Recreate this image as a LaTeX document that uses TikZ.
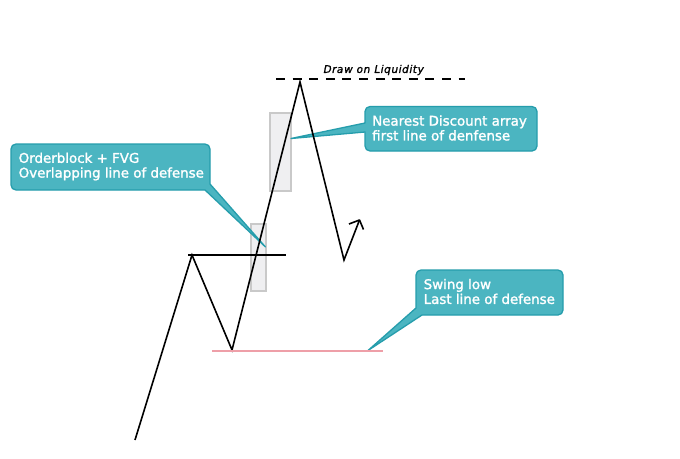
\documentclass[tikz,border=0pt]{standalone}
\usepackage{fontspec}
\setmainfont{DejaVu Sans}
\newfontfamily\calloutfont[FakeBold=1.6]{DejaVu Sans}
\newfontfamily\notefont[FakeSlant=0.2,FakeBold=1.4,LetterSpace=5]{DejaVu Sans}
\usetikzlibrary{arrows.meta}
\definecolor{calloutfill}{HTML}{4BB5C1}
\definecolor{calloutedge}{HTML}{259DAC}
\definecolor{zonefill}{HTML}{EFEFF1}
\definecolor{zoneedge}{HTML}{C9C9C9}
\definecolor{pinkline}{HTML}{EE9FA8}
\tikzset{
  x=1pt,y=-1pt,
  pline/.style={draw=black,line width=1.6pt},
  zone/.style={draw=zoneedge,fill=zonefill,line width=1.1pt},
  callout/.style={fill=calloutfill,draw=calloutedge,line width=1.3pt,line join=round},
  calltext/.style={text=white,align=left,anchor=west,font=\calloutfont\fontsize{13.4}{14.8}\selectfont,inner sep=0pt},
}
\begin{document}
\begin{tikzpicture}
\useasboundingbox (0,0) rectangle (680,458);
\fill[white] (0,0) rectangle (680,458);
% zones
\node[zone,minimum width=21pt,minimum height=78pt,inner sep=0pt] (zoneA) at (280.5,152) {};
\node[zone,minimum width=15pt,minimum height=67pt,inner sep=0pt] (zoneB) at (258.5,257.5) {};
% key points
\coordinate (start) at (135,440);
\coordinate (h1) at (192,255);
\coordinate (l1) at (232,350);
\coordinate (top) at (300,82);
\coordinate (l2) at (344,260);
\coordinate (end) at (359.5,220);
\coordinate (barbA) at (349,224);
\coordinate (barbB) at (363.5,229.5);
\coordinate (hA) at (188,255);
\coordinate (hB) at (286,255);
\coordinate (pA) at (212,351);
\coordinate (pB) at (383,351);
\coordinate (dA) at (276,79);
\coordinate (dB) at (465,79);
% callouts
\draw[callout] (16,144) -- (205,144) arc[start angle=-90,end angle=0,radius=5] -- (210,184)
  -- (265.5,247) -- (205,190) -- (16,190) arc[start angle=90,end angle=180,radius=5]
  -- (11,149) arc[start angle=180,end angle=270,radius=5] -- cycle;
\draw[callout] (370,106.5) -- (532,106.5) arc[start angle=-90,end angle=0,radius=5] -- (537,146)
  arc[start angle=0,end angle=90,radius=5] -- (370,151) arc[start angle=90,end angle=180,radius=5]
  -- (365,132) -- (291,138.5) -- (365,123) -- (365,111.5) arc[start angle=180,end angle=270,radius=5] -- cycle;
\draw[callout] (421,270) -- (558,270) arc[start angle=-90,end angle=0,radius=5] -- (563,310)
  arc[start angle=0,end angle=90,radius=5] -- (422,315) -- (368,350.5) -- (416,308)
  -- (416,275) arc[start angle=180,end angle=270,radius=5] -- cycle;
% lines
\draw[pline,line join=miter] (start) -- (h1) -- (l1) -- (top) -- (l2) -- (end);
\draw[black,line width=1.6pt,line join=round] (barbA) -- (end) -- (barbB);
\draw[pline] (hA) -- (hB);
\draw[draw=pinkline,line width=1.5pt] (pA) -- (pB);
\draw[draw=black,line width=1.5pt,dash pattern=on 9pt off 7.6pt] (dA) -- (dB);
% texts
\node[calltext] (t1) at (18.5,166.5) {Orderblock + FVG\\Overlapping line of defense};
\node[calltext] (t2) at (372,128) {Nearest Discount array\\first line of denfense};
\node[calltext] (t3) at (423.5,291.5) {Swing low\\Last line of defense};
\node[font=\notefont\fontsize{10.6}{11}\selectfont,inner sep=0pt] (t4) at (373,70) {Draw on Liquidity};
\end{tikzpicture}
\end{document}
